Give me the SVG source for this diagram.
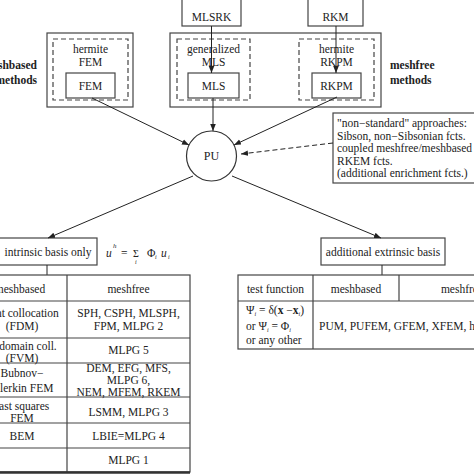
<svg xmlns="http://www.w3.org/2000/svg" width="474" height="474" viewBox="0 0 474 474">
<defs>
<marker id="ah" viewBox="0 0 10 10" refX="10" refY="5" markerWidth="7" markerHeight="7" markerUnits="userSpaceOnUse" orient="auto">
<path d="M0,1 L10,5 L0,9 z" fill="#222"/>
</marker>
<style>
text{font-family:"Liberation Serif","Times New Roman",serif;font-size:11.5px;fill:#222}
.c{text-anchor:middle}
.b{font-weight:bold;font-size:11.5px}
.box{fill:#fff;stroke:#444;stroke-width:1.2}
.dash{fill:none;stroke:#444;stroke-width:1.2;stroke-dasharray:5 3}
.ln{fill:none;stroke:#222;stroke-width:1}
.tb{fill:none;stroke:#444;stroke-width:1.2}
.m{font-style:italic}
</style>
</defs>
<rect width="474" height="474" fill="#fff"/>

<g id="labels">
<text class="b" x="37" y="69" text-anchor="end">meshbased</text>
<text class="b" x="37" y="84" text-anchor="end">methods</text>
<text class="b" x="390" y="69">meshfree</text>
<text class="b" x="390" y="84">methods</text>
</g>

<g id="meshbased-group">
<rect class="box" x="47" y="33" width="86" height="74"/>
<rect class="dash" x="53" y="39" width="75" height="61"/>
<text class="c" x="90.5" y="53">hermite</text>
<text class="c" x="90.5" y="66">FEM</text>
</g>
<g id="FEM">
<rect class="box" x="66" y="73" width="49" height="25"/>
<text class="c" x="90.5" y="90">FEM</text>
</g>

<g id="meshfree-group">
<rect class="box" x="170" y="33" width="211" height="74"/>
<rect class="dash" x="177" y="39" width="73" height="61"/>
<text class="c" x="213.5" y="53">generalized</text>
<text class="c" x="213.5" y="66">MLS</text>
<rect class="dash" x="299" y="39" width="75" height="61"/>
<text class="c" x="336.5" y="53">hermite</text>
<text class="c" x="336.5" y="66">RKPM</text>
</g>
<g id="MLS">
<rect class="box" x="188" y="73" width="51" height="25"/>
<text class="c" x="213.5" y="90">MLS</text>
</g>
<g id="RKPM">
<rect class="box" x="312" y="73" width="49" height="25"/>
<text class="c" x="336.5" y="90">RKPM</text>
</g>

<g id="MLSRK">
<rect class="box" x="182" y="-1" width="59" height="27"/>
<text class="c" x="211.5" y="21">MLSRK</text>
</g>
<g id="RKM">
<rect class="box" x="308" y="-1" width="55" height="27"/>
<text class="c" x="335.5" y="21">RKM</text>
</g>

<g id="PU">
<circle cx="211.5" cy="156" r="25" fill="#fff" stroke="#333" stroke-width="1.2"/>
<text class="c" x="211.5" y="160" style="font-size:12px">PU</text>
</g>

<g id="note">
<rect class="box" x="333" y="113" width="150" height="70"/>
<text x="337" y="127">"non−standard" approaches:</text>
<text x="337" y="140">Sibson, non−Sibsonian fcts.</text>
<text x="337" y="152">coupled meshfree/meshbased</text>
<text x="337" y="165">RKEM fcts.</text>
<text x="337" y="177">(additional enrichment fcts.)</text>
</g>

<g id="intrinsic">
<rect class="box" x="-2" y="238" width="99" height="27"/>
<text class="c" x="48" y="256">intrinsic basis only</text>
</g>
<g id="formula">
<text class="m" x="106" y="257">u</text>
<text class="m" x="113" y="248" style="font-size:7px">h</text>
<text x="121" y="257">=</text>
<text x="133" y="257" style="font-size:10px">Σ</text>
<text class="m" x="135" y="264" style="font-size:6px">i</text>
<text x="147" y="257">Φ</text>
<text class="m" x="155" y="259" style="font-size:6px">i</text>
<text class="m" x="161" y="257">u</text>
<text class="m" x="168" y="259" style="font-size:6px">i</text>
</g>
<g id="extrinsic">
<rect class="box" x="321" y="238" width="124" height="27"/>
<text class="c" x="383" y="256">additional extrinsic basis</text>
</g>

<g id="connectors">
<line class="ln" x1="211.5" y1="26" x2="211.5" y2="73" marker-end="url(#ah)"/>
<line class="ln" x1="336" y1="26" x2="336" y2="73" marker-end="url(#ah)"/>
<line class="ln" x1="213" y1="98" x2="213" y2="131" marker-end="url(#ah)"/>
<line class="ln" x1="92" y1="98" x2="189" y2="145" marker-end="url(#ah)"/>
<line class="ln" x1="337" y1="97" x2="234" y2="145" marker-end="url(#ah)"/>
<line class="ln" x1="333" y1="143" x2="241" y2="154" stroke-dasharray="5 3" marker-end="url(#ah)"/>
<line class="ln" x1="193" y1="176" x2="48" y2="238" marker-end="url(#ah)"/>
<line class="ln" x1="232" y1="176" x2="381" y2="238" marker-end="url(#ah)"/>
<line class="ln" x1="47" y1="265" x2="47" y2="275"/>
<line class="ln" x1="382" y1="265" x2="382" y2="275"/>
</g>

<g id="table-intrinsic">
<rect class="tb" x="-30" y="275" width="220" height="197"/>
<line class="tb" x1="67" y1="275" x2="67" y2="472"/>
<line class="tb" x1="-30" y1="301" x2="190" y2="301"/>
<line class="tb" x1="-30" y1="338" x2="190" y2="338"/>
<line class="tb" x1="-30" y1="363" x2="190" y2="363"/>
<line class="tb" x1="-30" y1="397" x2="190" y2="397"/>
<line class="tb" x1="-30" y1="423" x2="190" y2="423"/>
<line class="tb" x1="-30" y1="448" x2="190" y2="448"/>
<line x1="-30" y1="472.5" x2="190" y2="472.5" stroke="#333" stroke-width="2.5"/>
<text class="c" x="20" y="293">meshbased</text>
<text class="c" x="128.5" y="293">meshfree</text>
<text class="c" x="20" y="317">point collocation</text>
<text class="c" x="22" y="330">(FDM)</text>
<text class="c" x="128.5" y="317">SPH, CSPH, MLSPH,</text>
<text class="c" x="128.5" y="330">FPM, MLPG 2</text>
<text class="c" x="20" y="350">subdomain coll.</text>
<text class="c" x="22" y="362">(FVM)</text>
<text class="c" x="128.5" y="354">MLPG 5</text>
<text class="c" x="22" y="377">Bubnov−</text>
<text class="c" x="20" y="392">Galerkin FEM</text>
<text class="c" x="128.5" y="372">DEM, EFG, MFS,</text>
<text class="c" x="128.5" y="384">MLPG 6,</text>
<text class="c" x="128.5" y="396">NEM, MFEM, RKEM</text>
<text class="c" x="20" y="410">least squares</text>
<text class="c" x="22" y="422">FEM</text>
<text class="c" x="128.5" y="416">LSMM, MLPG 3</text>
<text class="c" x="22" y="440">BEM</text>
<text class="c" x="128.5" y="440">LBIE=MLPG 4</text>
<text class="c" x="128.5" y="464">MLPG 1</text>
</g>

<g id="table-extrinsic">
<rect class="tb" x="238" y="275" width="250" height="74"/>
<line class="tb" x1="313" y1="275" x2="313" y2="349"/>
<line class="tb" x1="399" y1="275" x2="399" y2="301"/>
<line class="tb" x1="238" y1="301" x2="488" y2="301"/>
<text class="c" x="275.5" y="293">test function</text>
<text class="c" x="356" y="293">meshbased</text>
<text class="c" x="462" y="293">meshfree</text>
<text x="246" y="314">Ψ<tspan class="m" style="font-size:6px" dy="2">i</tspan><tspan dy="-2"> = δ(</tspan><tspan font-weight="bold">x</tspan> −<tspan font-weight="bold">x</tspan><tspan class="m" style="font-size:6px" dy="2">i</tspan><tspan dy="-2">)</tspan></text>
<text x="246" y="330">or  Ψ<tspan class="m" style="font-size:6px" dy="2">i</tspan><tspan dy="-2"> = Φ</tspan><tspan class="m" style="font-size:6px" dy="2">i</tspan></text>
<text x="246" y="344">or any other</text>
<text x="319" y="330">PUM, PUFEM, GFEM, XFEM, hp-clouds</text>
</g>
</svg>
